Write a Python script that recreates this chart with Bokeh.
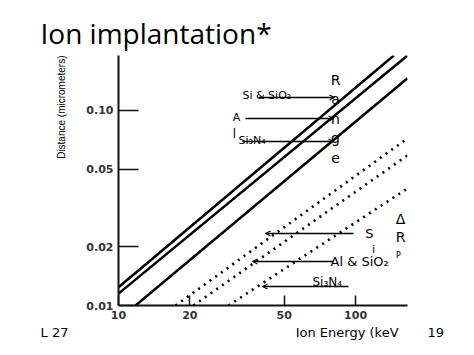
import numpy as np
from bokeh.plotting import figure
from bokeh.models import Range1d, FixedTicker, Label, Arrow, OpenHead, Title
from bokeh.embed import file_html
from bokeh.resources import INLINE

# ---------------- data ----------------
E_MIN, E_MAX = 10, 165.6
D_MIN, D_MAX = 0.01, 0.191

x_ticks = [10, 20, 50, 100]
x_tick_labels = ["10", "20", "50", "100"]
y_ticks = [0.01, 0.02, 0.05, 0.10]
y_tick_labels = ["0.01", "0.02", "0.05", "0.10"]

# projected range (solid lines)
range_energy_si_sio2 = [10, 145]
range_si_sio2 = [0.0124, 0.191]
range_energy_al = [10, 165.6]
range_al = [0.0115, 0.191]
range_energy_si3n4 = [11.8, 165.6]
range_si3n4 = [0.01, 0.146]

# straggle delta Rp (dotted lines)
drp_energy_si = [17.4, 165.6]
drp_si = [0.01, 0.0718]
drp_energy_al_sio2 = [20.7, 165.6]
drp_al_sio2 = [0.01, 0.0588]
drp_energy_si3n4 = [29.1, 165.6]
drp_si3n4 = [0.01, 0.0398]

# ---------------- layout helpers ----------------
W, H = 474, 355
FL, FR, FT, FB = 118, 407, 55, 305  # frame edges in page px


def to_data(xp, yp):
    e = 10 ** (np.log10(E_MIN) + (xp - FL) / (FR - FL) * (np.log10(E_MAX) - np.log10(E_MIN)))
    d = 10 ** (np.log10(D_MIN) + (FB - yp) / (FB - FT) * (np.log10(D_MAX) - np.log10(D_MIN)))
    return float(e), float(d)


p = figure(width=W, height=H, x_axis_type="log", y_axis_type="log",
           x_range=Range1d(E_MIN, E_MAX), y_range=Range1d(D_MIN, D_MAX),
           output_backend="svg", toolbar_location=None,
           min_border_left=FL, min_border_right=W - FR,
           min_border_top=FT, min_border_bottom=H - FB)
p.outline_line_color = None
p.xgrid.visible = False
p.ygrid.visible = False
p.background_fill_color = "white"
p.border_fill_color = "white"

for ax, ticks, labels, tin in ((p.xaxis[0], x_ticks, x_tick_labels, 10),
                                (p.yaxis[0], y_ticks, y_tick_labels, 20)):
    ax.ticker = FixedTicker(ticks=ticks, minor_ticks=[])
    ax.major_label_overrides = {t: l for t, l in zip(ticks, labels)}
    ax.major_tick_in = tin
    ax.major_tick_out = 0
    ax.minor_tick_in = 0
    ax.minor_tick_out = 0
    ax.axis_line_width = 2
    ax.axis_line_color = "#111111"
    ax.major_tick_line_width = 1.5
    ax.major_tick_line_color = "#111111"
    ax.major_label_text_font = "DejaVu Sans"
    ax.major_label_text_font_size = "11px"
    ax.major_label_text_font_style = "bold"
    ax.major_label_text_color = "#333333"
    ax.major_label_standoff = 5

# solid range lines
for ex, ys in ((range_energy_si_sio2, range_si_sio2),
               (range_energy_al, range_al),
               (range_energy_si3n4, range_si3n4)):
    p.line(ex, ys, line_color="black", line_width=2.5)

# dotted straggle lines
for ex, ys in ((drp_energy_si, drp_si),
               (drp_energy_al_sio2, drp_al_sio2),
               (drp_energy_si3n4, drp_si3n4)):
    p.line(ex, ys, line_color="black", line_width=2.6, line_dash="2 5")


def label(xp, yp, text, size, font="DejaVu Sans", align="left", angle=0.0, color="black"):
    x, y = to_data(xp, yp)
    p.add_layout(Label(x=x, y=y, text=text, text_font=font, text_font_size=size,
                       text_align=align, text_baseline="middle", angle=angle,
                       text_color=color))


def leader(x0, y0, x1, y1, head_at_start=False):
    xs, ys = to_data(x0, y0)
    xe, ye = to_data(x1, y1)
    if head_at_start:
        xs, ys, xe, ye = xe, ye, xs, ys
    p.add_layout(Arrow(x_start=xs, y_start=ys, x_end=xe, y_end=ye,
                       line_width=1.3, line_color="black",
                       end=OpenHead(size=5, line_width=1.2)))


# title and slide texts (as titles in the side panels)
p.title = Title(text="Ion implantation*", align="left", offset=40 - FL,
                text_font="Open Sans", text_font_size="28px", text_font_style="normal",
                text_color="black", standoff=8)
p.add_layout(Title(text="Distance (micrometers)", align="right", offset=0,
                   text_font="Liberation Sans", text_font_size="10px",
                   text_font_style="normal", text_color="black", standoff=34), "left")
NB = "\u00a0"
bottom_text = "L 27" + NB * 55 + "Ion Energy (keV" + NB * 7 + "19"
p.add_layout(Title(text=bottom_text, align="left", offset=40 - FL,
                   text_font="DejaVu Sans", text_font_size="13px",
                   text_font_style="normal", text_color="black", standoff=2), "below")

# range annotations
for i, ch in enumerate("Range"):
    label(335, 79 + i * 19.5, ch, "14px", align="center")
label(242, 95, "Si & SiO₂", "11px")
leader(258, 97, 334, 97)
label(236, 117, "A", "11px", align="center")
leader(245, 118, 333, 118)
label(234, 133, "l", "12px", align="center")
label(238, 140, "Si₃N₄", "11px")
leader(242, 141, 333, 141)

# straggle annotations
leader(265, 233, 353, 233, head_at_start=True)
label(369, 233, "S", "13px", align="center")
label(373, 249, "i", "11px", align="center")
leader(252, 261, 333, 261, head_at_start=True)
label(330, 261, "Al & SiO₂", "13px")
leader(262, 286, 348, 286, head_at_start=True)
label(312, 281, "Si₃N₄", "12px")
label(400, 218, "Δ", "14px", align="center")
label(400, 236, "R", "14px", align="center")
label(398, 255, "P", "8px", align="center")

open("out.html", "w").write(file_html(p, INLINE))
